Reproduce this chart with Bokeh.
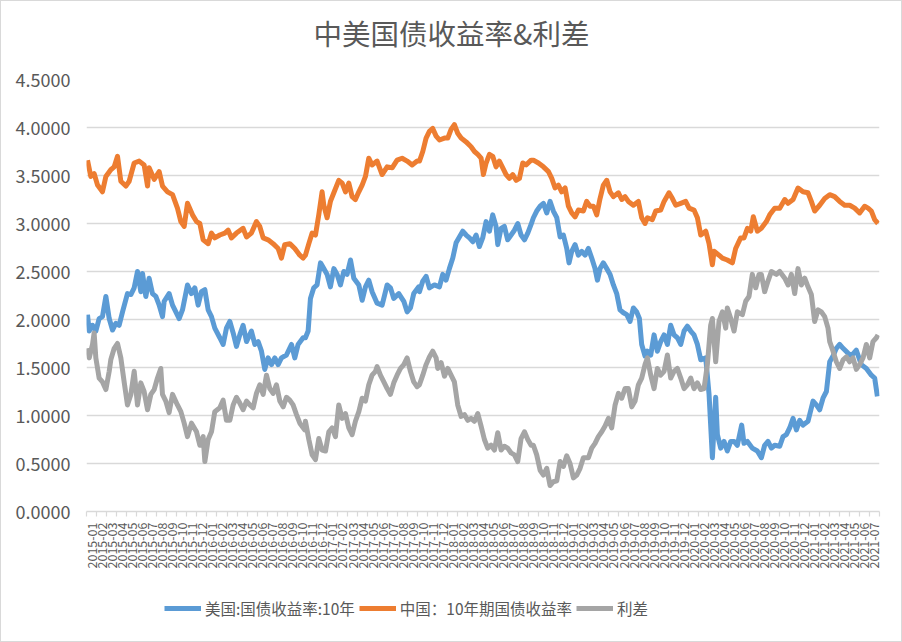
import math

from bokeh.embed import file_html
from bokeh.layouts import column
from bokeh.models import (ColumnDataSource, CustomJSTickFormatter, FixedTicker, Label,
                          Legend, LegendItem, NumeralTickFormatter, Range1d)
from bokeh.plotting import figure
from bokeh.resources import INLINE

# Month labels for the category-style date axis (2015-01 .. 2021-07)
month_labels = [f"{y}-{m:02d}" for y in range(2015, 2022) for m in range(1, 13)][:79]
y_ticks = [0.0, 0.5, 1.0, 1.5, 2.0, 2.5, 3.0, 3.5, 4.0, 4.5]

# Time positions are months elapsed since the start of 2015-01.
# China 10Y government bond yield
cn_t = [0.10, 0.43, 0.76, 1.10, 1.59, 1.93, 2.42, 2.76, 3.09, 3.42, 3.92, 4.25, 4.75, 5.25,
        5.74, 6.08, 6.24, 6.74, 7.24, 7.57, 8.07, 8.57, 9.06, 9.40, 9.73, 10.06, 10.56,
        10.96, 11.29, 11.62, 12.12, 12.45, 12.78, 13.28, 13.78, 14.11, 14.44, 14.94, 15.60,
        15.94, 16.43, 16.93, 17.26, 17.60, 18.09, 18.59, 19.09, 19.42, 19.75, 20.25, 20.75,
        21.25, 21.58,
        21.81, 22.15, 22.48, 22.81, 23.14, 23.47, 23.64, 23.97, 24.30, 24.64, 25.13, 25.47,
        25.80, 26.13, 26.46, 26.79, 27.13, 27.46, 27.79, 28.12, 28.45, 28.95, 29.45, 29.95,
        30.45, 30.94, 31.44, 31.94, 32.44, 32.94,
        33.17, 33.50, 33.83, 34.16, 34.49, 34.83, 35.16, 35.66, 35.99, 36.32, 36.65, 36.98,
        37.32, 37.82, 38.31, 38.65, 38.98, 39.31, 39.54, 39.81, 40.14, 40.47, 40.80, 41.13,
        41.47, 41.80, 42.13, 42.46, 42.80, 43.13, 43.46, 43.79, 44.29,
        44.52, 45.02, 45.52, 46.02, 46.35, 46.68, 47.01, 47.34, 47.68, 48.01, 48.34, 48.67,
        49.00, 49.50, 49.83, 50.17, 50.50, 50.83, 51.16, 51.49, 51.83, 52.16, 52.49, 52.99,
        53.32, 53.65, 53.98, 54.48, 54.98, 55.31, 55.64,
        55.88, 56.37, 56.71, 57.20, 57.54, 58.03, 58.37, 58.70, 59.20, 59.69, 60.03, 60.52,
        60.86, 61.19, 61.69, 62.02, 62.35, 62.52, 63.01, 63.35, 63.84, 64.34, 64.67, 65.17,
        65.50, 65.84, 66.17, 66.43, 66.83,
        67.23, 67.73, 68.06, 68.56, 69.06, 69.56, 69.89, 70.39, 70.88, 71.38, 71.88, 72.21,
        72.54, 73.04, 73.54, 74.04, 74.53, 75.03, 75.53, 76.03, 76.53, 77.02, 77.52, 77.86,
        78.19, 78.52, 78.85]
cn_yield = [3.66, 3.49, 3.52, 3.40, 3.33, 3.49, 3.56, 3.59, 3.70, 3.44, 3.39, 3.44, 3.63, 3.65,
            3.61, 3.39, 3.58, 3.46, 3.54, 3.39, 3.33, 3.30, 3.16, 3.02, 2.97, 3.21, 3.09,
            3.02, 3.00, 2.83, 2.79, 2.90, 2.85, 2.88, 2.90, 2.93, 2.85, 2.90, 2.95,
            2.86, 2.90, 3.02, 2.97, 2.85, 2.83, 2.79, 2.74, 2.64, 2.78, 2.79, 2.74,
            2.67, 2.64,
            2.67, 2.79, 2.90, 2.88, 3.09, 3.33, 3.19, 3.06, 3.23, 3.32, 3.45, 3.42,
            3.33, 3.42, 3.28, 3.25, 3.33, 3.40, 3.49, 3.68, 3.61, 3.65, 3.51, 3.59,
            3.58, 3.66, 3.68, 3.65, 3.61, 3.65,
            3.65, 3.75, 3.89, 3.96, 3.99, 3.91, 3.87, 3.89, 3.89, 3.98, 4.03, 3.94,
            3.89, 3.85, 3.80, 3.75, 3.72, 3.68, 3.51, 3.63, 3.72, 3.70, 3.59, 3.65,
            3.58, 3.51, 3.47, 3.51, 3.45, 3.47, 3.63, 3.61, 3.66,
            3.66, 3.63, 3.59, 3.54, 3.47, 3.37, 3.40, 3.33, 3.37, 3.18, 3.11, 3.07,
            3.14, 3.13, 3.23, 3.18, 3.18, 3.09, 3.26, 3.40, 3.45, 3.33, 3.28, 3.32,
            3.25, 3.28, 3.23, 3.19, 3.23, 3.06, 3.00,
            3.06, 3.04, 3.13, 3.14, 3.23, 3.32, 3.26, 3.19, 3.21, 3.23, 3.16, 3.14,
            3.06, 2.88, 2.92, 2.79, 2.57, 2.71, 2.67, 2.64, 2.62, 2.59, 2.74, 2.85,
            2.85, 2.95, 2.92, 3.07, 2.92,
            2.95, 3.02, 3.09, 3.16, 3.16, 3.25, 3.21, 3.25, 3.37, 3.33, 3.32, 3.23,
            3.13, 3.19, 3.26, 3.30, 3.28, 3.23, 3.19, 3.19, 3.16, 3.11, 3.18, 3.16,
            3.13, 3.04, 3.00]

# US 10Y treasury yield
us_t = [0.10, 0.27, 0.60, 0.93, 1.26, 1.59, 1.93, 2.26, 2.59, 2.92, 3.25, 3.59, 4.08, 4.42,
        4.75, 5.08, 5.41, 5.58, 5.91, 6.24, 6.57, 6.91, 7.24, 7.57, 7.74, 8.23, 8.57, 8.90,
        9.23, 9.56, 9.89, 10.06,
        10.46, 10.79, 11.12, 11.45, 11.79, 12.12, 12.45, 12.78, 13.28, 13.61, 13.94, 14.28,
        14.61, 14.94, 15.27, 15.60, 15.94, 16.43, 16.77, 17.10, 17.43, 17.76, 18.09, 18.43,
        18.76, 19.09, 19.42, 19.92, 20.42, 20.75, 21.08, 21.58,
        21.81, 22.08, 22.31, 22.64, 22.97, 23.31, 23.64, 23.97, 24.30, 24.64, 24.97, 25.30,
        25.63, 25.96, 26.30, 26.63, 27.13, 27.46, 27.79, 28.12, 28.45, 28.95, 29.45, 29.95,
        30.28, 30.61, 31.11, 31.61, 31.94, 32.27, 32.60, 33.10,
        33.17, 33.50, 33.83, 34.16, 34.66, 35.16, 35.49, 35.82, 36.15, 36.49, 36.82, 37.15,
        37.48, 37.82, 38.15, 38.48, 38.81, 39.14, 39.47, 39.81, 40.14, 40.47, 40.80, 40.97,
        41.30, 41.63, 41.96, 42.30, 42.63, 42.96, 43.29, 43.63, 43.96, 44.29,
        44.52, 44.85, 45.19, 45.52, 45.85, 46.18, 46.51, 46.85, 47.18, 47.51, 47.84, 48.07,
        48.34, 48.67, 49.00, 49.34, 49.67, 50.00, 50.33, 50.66, 50.90, 51.16, 51.49, 51.83,
        52.16, 52.49, 52.82, 53.15, 53.49, 53.82, 54.15, 54.48, 54.81, 55.08, 55.31, 55.64,
        55.88, 56.21, 56.54, 56.87, 57.20, 57.54, 57.87, 58.20, 58.53, 58.86, 59.20, 59.53,
        59.86, 60.19, 60.52, 60.86, 61.19, 61.69, 62.02, 62.35, 62.68, 62.85, 63.18, 63.51,
        63.84, 64.18, 64.51, 64.84, 65.27, 65.50, 65.84, 66.33, 66.83,
        67.23, 67.56, 67.89, 68.23, 68.56, 69.06, 69.39, 69.72, 70.05, 70.39, 70.72, 71.05,
        71.38, 71.88, 72.38, 72.71, 73.04, 73.37, 73.71, 74.04, 74.37, 74.70, 75.03, 75.37,
        75.86, 76.19, 76.69, 77.19, 77.69, 78.19, 78.52, 78.79]
us_yield = [2.05, 1.88, 1.94, 1.88, 2.01, 2.03, 2.24, 2.01, 1.89, 1.96, 1.94, 2.08, 2.27, 2.26,
            2.33, 2.50, 2.29, 2.48, 2.24, 2.43, 2.27, 2.24, 2.15, 2.03, 2.19, 2.27, 2.15, 2.08,
            2.01, 2.10, 2.27, 2.36,
            2.27, 2.33, 2.15, 2.29, 2.31, 2.10, 2.03, 1.91, 1.81, 1.74, 1.91, 1.98,
            1.86, 1.72, 1.84, 1.94, 1.77, 1.88, 1.74, 1.77, 1.67, 1.48, 1.60, 1.53,
            1.60, 1.53, 1.60, 1.63, 1.74, 1.60, 1.74, 1.81,
            1.81, 1.88, 2.22, 2.33, 2.36, 2.59, 2.53, 2.47, 2.34, 2.53, 2.47, 2.36,
            2.50, 2.47, 2.62, 2.43, 2.36, 2.20, 2.34, 2.41, 2.29, 2.17, 2.15, 2.36,
            2.33, 2.22, 2.27, 2.19, 2.08, 2.12, 2.27, 2.34,
            2.29, 2.40, 2.45, 2.33, 2.36, 2.34, 2.47, 2.41, 2.53, 2.64, 2.80, 2.86,
            2.92, 2.88, 2.85, 2.81, 2.88, 2.76, 2.85, 3.02, 2.92, 3.09, 2.97, 2.78,
            2.95, 2.97, 2.83, 2.88, 2.93, 3.00, 2.88, 2.83, 2.90, 2.99,
            3.06, 3.13, 3.18, 3.21, 3.11, 3.23, 3.13, 3.06, 2.86, 2.88, 2.74, 2.59,
            2.71, 2.78, 2.67, 2.71, 2.67, 2.74, 2.64, 2.53, 2.41, 2.53, 2.59, 2.53,
            2.47, 2.36, 2.27, 2.10, 2.07, 2.05, 1.98, 2.12, 2.08, 2.01, 1.74, 1.62,
            1.67, 1.63, 1.84, 1.67, 1.77, 1.84, 1.74, 1.94, 1.84, 1.81, 1.74, 1.88,
            1.93, 1.88, 1.84, 1.74, 1.58, 1.60, 1.22, 0.56, 1.19, 0.80, 0.66, 0.73,
            0.63, 0.73, 0.73, 0.69, 0.90, 0.71, 0.73, 0.66, 0.63,
            0.56, 0.69, 0.73, 0.66, 0.69, 0.68, 0.78, 0.80, 0.87, 0.97, 0.85, 0.95,
            0.90, 0.94, 1.15, 1.11, 1.06, 1.18, 1.25, 1.56, 1.62, 1.70, 1.74, 1.70,
            1.65, 1.62, 1.68, 1.53, 1.49, 1.42, 1.39, 1.20]

# China - US yield spread
spread_t = [0.10, 0.27, 0.60, 0.76, 0.93, 1.26, 1.59, 1.93, 2.26, 2.42, 2.76, 3.09, 3.42, 3.75,
            4.08, 4.42, 4.75, 5.08, 5.41, 5.74, 6.08, 6.41, 6.74, 7.07, 7.40, 7.57, 7.90, 8.23,
            8.57, 9.06, 9.40, 9.73, 10.06,
            10.46, 10.96, 11.29, 11.62, 11.79, 12.12, 12.45, 12.78, 13.28, 13.61, 13.94, 14.28,
            14.61, 14.94, 15.27, 15.60, 15.94, 16.27, 16.60, 16.93, 17.26, 17.60, 17.93, 18.26,
            18.59, 18.92, 19.26, 19.59, 19.92, 20.25, 20.58, 20.92, 21.25, 21.75,
            21.81, 22.15, 22.48, 22.81, 23.14, 23.47, 23.81, 24.14, 24.47, 24.80, 25.13, 25.47,
            25.80, 26.13, 26.46, 26.79, 27.13, 27.46, 27.79, 28.12, 28.45, 28.79, 28.95, 29.28,
            29.62, 29.95, 30.28, 30.61, 30.94, 31.28, 31.61, 31.94, 32.27, 32.60, 32.94,
            33.17, 33.50, 33.83, 34.16, 34.49, 34.83, 34.99, 35.33, 35.66, 35.99, 36.32, 36.65,
            36.98, 37.32, 37.65, 37.98, 38.31, 38.65, 38.98, 39.31, 39.64, 39.97, 40.30, 40.64,
            40.97, 41.30, 41.63, 41.96, 42.30, 42.63, 42.96, 43.29, 43.63, 43.96, 44.29,
            44.52, 44.85, 45.19, 45.52, 45.85, 46.18, 46.51, 46.85, 47.18, 47.51, 47.84, 48.17,
            48.51, 48.84, 49.17, 49.50, 50.00, 50.33, 50.66, 50.99, 51.33, 51.66, 51.99, 52.32,
            52.66, 52.99, 53.32, 53.65, 53.98, 54.32, 54.65, 54.98, 55.31, 55.64,
            55.88, 56.21, 56.54, 56.87, 57.20, 57.54, 57.87, 58.20, 58.53, 58.86, 59.20, 59.53,
            59.86, 60.19, 60.52, 60.86, 61.19, 61.52, 61.85, 62.18, 62.35, 62.68, 63.01, 63.35,
            63.68, 63.84, 64.18, 64.51, 64.84, 65.34, 65.67, 66.00, 66.33, 66.67, 67.00,
            67.23, 67.56, 67.89, 68.23, 68.73, 69.06, 69.56, 69.89, 70.22, 70.55, 70.88, 71.22,
            71.55, 71.88, 72.21, 72.54, 72.88, 73.21, 73.54, 73.87, 74.04, 74.37, 74.70, 75.03,
            75.37, 75.70, 76.03, 76.36, 76.69, 77.02, 77.36, 77.69, 78.02, 78.35, 78.69, 78.85]
spread = [1.70, 1.60, 1.74, 1.86, 1.60, 1.39, 1.35, 1.27, 1.46, 1.58, 1.70, 1.75, 1.60, 1.35,
          1.11, 1.22, 1.46, 1.11, 1.34, 1.25, 1.06, 1.22, 1.27, 1.39, 1.49, 1.22, 1.15, 1.03,
          1.22, 1.11, 1.04, 0.92, 0.78,
          0.92, 0.83, 0.69, 0.78, 0.52, 0.75, 0.83, 1.04, 1.08, 1.16, 0.95, 0.95,
          1.11, 1.19, 1.13, 1.06, 1.15, 1.11, 1.08, 1.23, 1.32, 1.22, 1.42, 1.28,
          1.23, 1.32, 1.15, 1.09, 1.19, 1.16, 1.11, 1.01, 0.92, 0.85,
          0.94, 0.75, 0.59, 0.54, 0.76, 0.64, 0.63, 0.83, 0.87, 0.78, 1.11, 0.97,
          1.02, 0.87, 0.80, 0.94, 1.04, 1.18, 1.15, 1.32, 1.42, 1.46, 1.51, 1.42,
          1.35, 1.28, 1.22, 1.34, 1.42, 1.49, 1.53, 1.60, 1.46, 1.35, 1.30,
          1.32, 1.42, 1.53, 1.61, 1.67, 1.60, 1.49, 1.55, 1.41, 1.49, 1.42, 1.35,
          1.11, 0.99, 1.01, 0.95, 0.97, 0.94, 1.02, 0.89, 0.75, 0.66, 0.69, 0.64,
          0.82, 0.64, 0.68, 0.66, 0.61, 0.59, 0.52, 0.76, 0.83, 0.75, 0.69,
          0.69, 0.59, 0.43, 0.38, 0.45, 0.27, 0.31, 0.32, 0.52, 0.47, 0.58, 0.50,
          0.35, 0.38, 0.45, 0.56, 0.56, 0.66, 0.71, 0.78, 0.83, 0.89, 0.97, 0.87,
          1.11, 1.23, 1.18, 1.28, 1.28, 1.09, 1.15, 1.32, 1.39, 1.53,
          1.60, 1.42, 1.28, 1.49, 1.42, 1.46, 1.63, 1.39, 1.46, 1.49, 1.39, 1.28,
          1.32, 1.39, 1.28, 1.34, 1.27, 1.28, 1.53, 1.94, 2.01, 1.56, 1.98, 2.08,
          1.91, 2.12, 2.01, 1.88, 2.08, 2.05, 2.19, 2.24, 2.47, 2.33, 2.47,
          2.47, 2.29, 2.40, 2.50, 2.47, 2.50, 2.43, 2.36, 2.47, 2.27, 2.53, 2.36,
          2.43, 2.34, 2.26, 1.98, 2.10, 2.08, 2.03, 1.91, 1.77, 1.67, 1.56, 1.49,
          1.58, 1.61, 1.56, 1.60, 1.48, 1.53, 1.60, 1.74, 1.60, 1.77, 1.81, 1.84]

chart_title = "中美国债收益率&利差"
series_names = ["美国:国债收益率:10年", "中国：10年期国债收益率", "利差"]

BLUE = "#5B9BD5"
ORANGE = "#ED7D31"
GREY = "#A5A5A5"
TEXT = "#595959"
RULE = "#D9D9D9"
CJK = "Noto Sans CJK SC"
LINE_W = 5
WIDTH = 900
LEFT, RIGHT = 85, 22   # side borders shared by every row of the column


def strip(height):
    """A bare full-width row; its x range is expressed in canvas pixels."""
    s = figure(width=WIDTH, height=height, output_backend="svg", toolbar_location=None,
               x_range=Range1d(LEFT, WIDTH - RIGHT), y_range=Range1d(0, height),
               x_axis_location=None, y_axis_location=None,
               min_border_left=LEFT, min_border_right=RIGHT,
               min_border_top=0, min_border_bottom=0, outline_line_color=None)
    s.grid.visible = False
    return s


# Title row
head = strip(66)
head.add_layout(Label(x=WIDTH / 2, y=35, text=chart_title, text_align="center",
                      text_baseline="middle", text_font=CJK, text_font_size="28.5px",
                      text_color=TEXT))

# Main chart
p = figure(width=WIDTH, height=519, output_backend="svg", toolbar_location=None,
           x_range=Range1d(0, 79), y_range=Range1d(0, 4.5),
           min_border_left=LEFT, min_border_right=RIGHT, min_border_top=12,
           min_border_bottom=75)
p.outline_line_color = None
p.xgrid.grid_line_color = None
p.ygrid.grid_line_color = RULE
p.ygrid.grid_line_width = 1.5

# y axis
p.yaxis.ticker = FixedTicker(ticks=y_ticks)
p.yaxis.formatter = NumeralTickFormatter(format="0.0000")
p.yaxis.axis_line_color = None
p.yaxis.major_tick_line_color = None
p.yaxis.minor_tick_line_color = None
p.yaxis.major_label_text_font = CJK
p.yaxis.major_label_text_font_size = "18px"
p.yaxis.major_label_text_color = TEXT
p.yaxis.major_label_standoff = 10

# x axis: labels centred in each month, tick marks at month boundaries
p.xaxis.ticker = FixedTicker(ticks=[i + 0.5 for i in range(len(month_labels))],
                             minor_ticks=list(range(len(month_labels) + 1)))
p.xaxis.formatter = CustomJSTickFormatter(args=dict(labels=month_labels),
                                          code="return labels[Math.floor(tick)] || ''")
p.xaxis.major_label_orientation = math.pi / 2
p.xaxis.major_label_text_font = CJK
p.xaxis.major_label_text_font_size = "12.5px"
p.xaxis.major_label_text_color = TEXT
p.xaxis.major_label_standoff = 5
p.xaxis.axis_line_color = RULE
p.xaxis.axis_line_width = 1.5
p.xaxis.major_tick_line_color = None
p.xaxis.minor_tick_line_color = RULE
p.xaxis.minor_tick_in = 0
p.xaxis.minor_tick_out = 5
p.xaxis.minor_tick_line_width = 1.2

src_us = ColumnDataSource(dict(t=us_t, v=us_yield))
src_cn = ColumnDataSource(dict(t=cn_t, v=cn_yield))
src_sp = ColumnDataSource(dict(t=spread_t, v=spread))

colors = [BLUE, ORANGE, GREY]
for src, col in zip([src_us, src_cn, src_sp], colors):
    p.line("t", "v", source=src, line_color=col, line_width=LINE_W, line_join="round")

# Legend row underneath the chart (key lines sit outside the visible range)
leg = strip(55)
keys = [leg.line([-20, -10], [-20, -10], line_color=col, line_width=LINE_W) for col in colors]
legend = Legend(items=[LegendItem(label=name, renderers=[r])
                       for name, r in zip(series_names, keys)],
                orientation="horizontal", location=(163 - LEFT, 22),
                label_text_font=CJK, label_text_font_size="15.5px", label_text_color=TEXT,
                glyph_width=37, glyph_height=14, label_standoff=4, spacing=4,
                padding=4, margin=0, border_line_color=None, background_fill_alpha=0)
leg.add_layout(legend)

page = column(head, p, leg, spacing=0, styles={"border": f"1px solid {RULE}"})
open("out.html", "w").write(file_html(page, INLINE))
